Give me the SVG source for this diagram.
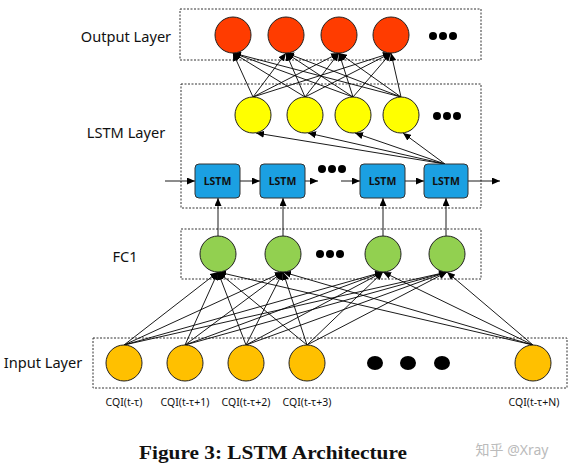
<svg xmlns="http://www.w3.org/2000/svg" width="579" height="474" viewBox="0 0 579 474">
<defs>
<marker id="ah" markerUnits="userSpaceOnUse" markerWidth="8" markerHeight="7" refX="8" refY="3.5" orient="auto"><path d="M0,0 L8,3.5 L0,7 z" fill="#000"/></marker>
<style>
.box{fill:none;stroke:#333;stroke-width:1;stroke-dasharray:2,1.5}
.c{stroke:#222;stroke-width:1}
.out{fill:#ff3c00}.yel{fill:#ffff00}.grn{fill:#92d050}.inp{fill:#ffc000}
.lstm{fill:#1ba0e2;stroke:#333;stroke-width:1}
.lt{font-family:"Noto Sans","Open Sans",sans-serif;font-size:10.5px;font-weight:bold;fill:#111;text-anchor:middle}
.lbl{font-family:"Noto Sans","Open Sans",sans-serif;font-size:14.6px;fill:#111;text-anchor:middle}
.cq{font-family:"Noto Sans","Open Sans",sans-serif;font-size:10.5px;fill:#111;text-anchor:middle}
.e line{stroke:#000;stroke-width:0.9;marker-end:url(#ah)}
</style>
</defs>
<rect width="579" height="474" fill="#fff"/>
<g id="layer-boxes">
<rect class="box" x="180" y="9" width="301" height="51"/>
<rect class="box" x="181" y="84" width="300" height="124"/>
<rect class="box" x="181" y="229" width="300" height="50"/>
<rect class="box" x="93" y="338" width="474" height="50"/>
</g>
<g id="labels">
<text class="lbl" x="126" y="42">Output Layer</text>
<text class="lbl" x="126" y="138">LSTM Layer</text>
<text class="lbl" x="125" y="262">FC1</text>
<text class="lbl" x="43" y="368">Input Layer</text>
</g>
<g id="connectors" class="e">
<line x1="253" y1="97" x2="233" y2="53"/><line x1="253" y1="97" x2="286" y2="53"/><line x1="253" y1="97" x2="339" y2="53"/><line x1="253" y1="97" x2="391" y2="53"/>
<line x1="305" y1="97" x2="233" y2="53"/><line x1="305" y1="97" x2="286" y2="53"/><line x1="305" y1="97" x2="339" y2="53"/><line x1="305" y1="97" x2="391" y2="53"/>
<line x1="353" y1="97" x2="233" y2="53"/><line x1="353" y1="97" x2="286" y2="53"/><line x1="353" y1="97" x2="339" y2="53"/><line x1="353" y1="97" x2="391" y2="53"/>
<line x1="401" y1="97" x2="233" y2="53"/><line x1="401" y1="97" x2="286" y2="53"/><line x1="401" y1="97" x2="339" y2="53"/><line x1="401" y1="97" x2="391" y2="53"/>
<line x1="445" y1="164" x2="256" y2="133"/><line x1="445" y1="164" x2="308" y2="133"/><line x1="445" y1="164" x2="355" y2="133"/><line x1="445" y1="164" x2="403" y2="133"/>
<line x1="165" y1="181" x2="195" y2="181"/><line x1="240" y1="181" x2="260" y2="181"/><line x1="305" y1="181" x2="318" y2="181"/><line x1="341" y1="181" x2="360" y2="181"/><line x1="405" y1="181" x2="424" y2="181"/><line x1="468" y1="181" x2="500" y2="181"/>
<line x1="218" y1="236" x2="218" y2="198"/><line x1="283" y1="236" x2="283" y2="198"/><line x1="383" y1="236" x2="383" y2="198"/><line x1="446" y1="236" x2="446" y2="198"/>
<line x1="124" y1="345" x2="218" y2="272"/><line x1="124" y1="345" x2="283" y2="272"/><line x1="124" y1="345" x2="383" y2="272"/><line x1="124" y1="345" x2="447" y2="272"/>
<line x1="185" y1="345" x2="218" y2="272"/><line x1="185" y1="345" x2="283" y2="272"/><line x1="185" y1="345" x2="383" y2="272"/><line x1="185" y1="345" x2="447" y2="272"/>
<line x1="246" y1="345" x2="218" y2="272"/><line x1="246" y1="345" x2="283" y2="272"/><line x1="246" y1="345" x2="383" y2="272"/><line x1="246" y1="345" x2="447" y2="272"/>
<line x1="307" y1="345" x2="218" y2="272"/><line x1="307" y1="345" x2="283" y2="272"/><line x1="307" y1="345" x2="383" y2="272"/><line x1="307" y1="345" x2="447" y2="272"/>
<line x1="533" y1="345" x2="218" y2="272"/><line x1="533" y1="345" x2="283" y2="272"/><line x1="533" y1="345" x2="383" y2="272"/><line x1="533" y1="345" x2="447" y2="272"/>
</g>
<g id="output-layer">
<circle class="c out" cx="233" cy="35" r="18"/><circle class="c out" cx="286" cy="35" r="18"/><circle class="c out" cx="339" cy="35" r="18"/><circle class="c out" cx="391" cy="35" r="18"/>
<circle cx="433" cy="36" r="4"/><circle cx="443" cy="36" r="4"/><circle cx="453" cy="36" r="4"/>
</g>
<g id="lstm-outputs">
<circle class="c yel" cx="253" cy="115" r="18"/><circle class="c yel" cx="305" cy="115" r="18"/><circle class="c yel" cx="353" cy="115" r="18"/><circle class="c yel" cx="401" cy="115" r="18"/>
<circle cx="437" cy="116" r="4"/><circle cx="447" cy="116" r="4"/><circle cx="457" cy="116" r="4"/>
</g>
<g id="lstm-cells">
<rect class="lstm" x="195" y="164" width="45" height="34" rx="4"/><text class="lt" x="217.5" y="185">LSTM</text>
<rect class="lstm" x="260" y="164" width="45" height="34" rx="4"/><text class="lt" x="282.5" y="185">LSTM</text>
<rect class="lstm" x="360" y="164" width="45" height="34" rx="4"/><text class="lt" x="382.5" y="185">LSTM</text>
<rect class="lstm" x="424" y="164" width="44" height="34" rx="4"/><text class="lt" x="446" y="185">LSTM</text>
<circle cx="322" cy="169" r="4"/><circle cx="332" cy="169" r="4"/><circle cx="342" cy="169" r="4"/>
</g>
<g id="fc1-layer">
<circle class="c grn" cx="218" cy="254" r="18"/><circle class="c grn" cx="283" cy="254" r="18"/><circle class="c grn" cx="383" cy="254" r="18"/><circle class="c grn" cx="447" cy="254" r="18"/>
<circle cx="320" cy="254" r="4"/><circle cx="330" cy="254" r="4"/><circle cx="340" cy="254" r="4"/>
</g>
<g id="input-layer">
<circle class="c inp" cx="124" cy="363" r="18"/><circle class="c inp" cx="185" cy="363" r="18"/><circle class="c inp" cx="246" cy="363" r="18"/><circle class="c inp" cx="307" cy="363" r="18"/><circle class="c inp" cx="533" cy="363" r="18"/>
<ellipse cx="375" cy="363" rx="8" ry="7"/><ellipse cx="408" cy="363" rx="8" ry="7"/><ellipse cx="442" cy="363" rx="8" ry="7"/>
<text class="cq" x="124" y="406">CQI(t-τ)</text>
<text class="cq" x="185" y="406">CQI(t-τ+1)</text>
<text class="cq" x="246" y="406">CQI(t-τ+2)</text>
<text class="cq" x="307" y="406">CQI(t-τ+3)</text>
<text class="cq" x="534" y="406">CQI(t-τ+N)</text>
</g>
<g id="caption">
<text x="273" y="459" font-family="'Liberation Serif',serif" font-weight="bold" font-size="19" text-anchor="middle" fill="#111" textLength="268" lengthAdjust="spacingAndGlyphs">Figure 3: LSTM Architecture</text>
<text x="512" y="455" font-family="'Noto Sans','Noto Sans CJK SC',sans-serif" font-size="14" text-anchor="middle" fill="#bbb">知乎 @Xray</text>
</g>
</svg>
